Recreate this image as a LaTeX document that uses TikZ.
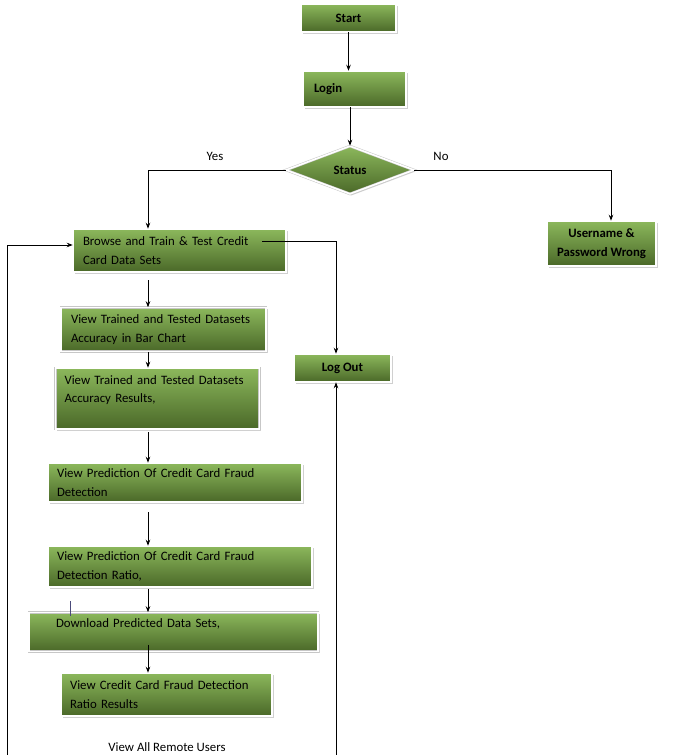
\documentclass[tikz,border=0pt]{standalone}
\usepackage{fontspec}
\setmainfont{Carlito}
\usetikzlibrary{shapes.geometric,shadows,arrows.meta,calc}
\definecolor{gtop}{HTML}{8CB85C}
\definecolor{gbot}{HTML}{4A6828}
\definecolor{strayc}{HTML}{4A4A7A}
\begin{document}
\begin{tikzpicture}[x=1pt,y=-1pt,
  gbox/.style={rectangle, top color=gtop, bottom color=gbot, draw=black!22, double=white, double distance=1.6pt, line width=0.5pt,
    drop shadow={shadow xshift=1.5pt, shadow yshift=-1.5pt, opacity=0.3, fill=black!60},
    inner sep=0pt, text=black, font=\fontsize{12.8}{18.5}\selectfont},
  lbox/.style={gbox, align=left},
  bbox/.style={gbox, align=center, font=\fontsize{12.8}{18.5}\selectfont\bfseries},
  dbox/.style={diamond, top color=gtop, bottom color=gbot, draw=black!22, double=white, double distance=1.6pt, line width=0.5pt,
    drop shadow={shadow xshift=1.5pt, shadow yshift=-1.5pt, opacity=0.3, fill=black!60},
    inner sep=0pt, font=\fontsize{12.8}{14}\selectfont\bfseries},
  conn/.style={line width=0.9pt, black},
  arr/.style={conn, -{Stealth[length=6pt,width=4.5pt]}},
  lbl/.style={font=\fontsize{12.8}{14}\selectfont, inner sep=0pt}
]
\useasboundingbox[fill=white] (0,0) rectangle (685,755);

% nodes
\node[bbox, minimum width=95, minimum height=28] (start) at (348.5,18) {Start};
\node[gbox, minimum width=103, minimum height=36, text width=81, align=left, font=\fontsize{12.8}{14}\selectfont\bfseries] (login) at (354.5,89) {Login};
\node[dbox, minimum width=128, minimum height=48] (status) at (350,170) {Status};
\node[bbox, minimum width=109, minimum height=45] (wrong) at (601.5,243.5) {Username \&\\Password Wrong};
\node[lbox, minimum width=213, minimum height=43, text width=193] (browse) at (179.5,250.5) {Browse and Train \& Test Credit\\Card Data Sets};
\node[bbox, minimum width=97, minimum height=28] (logout) at (342.5,368) {Log Out};
\node[lbox, minimum width=205, minimum height=44, text width=185] (bar) at (163.5,329.5) {View Trained and Tested Datasets\\Accuracy in Bar Chart};
\node[lbox, minimum width=204, minimum height=61, text width=186] (acc) at (157.5,398.5) {View Trained and Tested Datasets\\Accuracy Results,\\\mbox{}};
\node[lbox, minimum width=254, minimum height=39, text width=236] (pred) at (175,482.5) {View Prediction Of Credit Card Fraud\\Detection};
\node[lbox, minimum width=264, minimum height=41, text width=246] (ratio) at (180,566.5) {View Prediction Of Credit Card Fraud\\Detection Ratio,};
\node[lbox, minimum width=289, minimum height=39, text width=271] (down) at (173.5,632) {\hspace*{18pt}Download Predicted Data Sets,\\\mbox{}};
\node[lbox, minimum width=211, minimum height=43, text width=193] (res) at (166.5,694.5) {View Credit Card Fraud Detection\\Ratio Results};

\node[lbl] (remote) at (167,747) {View All Remote Users};
\node[lbl] (yes) at (215,156) {Yes};
\node[lbl] (no) at (441,156) {No};

% helper coordinates
\coordinate (spine) at (148,0);
\coordinate (browseout) at (262,241);
\coordinate (logx) at (336,0);
\coordinate (nox) at (611,0);
\coordinate (leftbot) at (7,755);
\coordinate (rightbot) at (336,755);
\coordinate (strayA) at (70,601);
\coordinate (strayB) at (70,616);

% connectors
\draw[arr] (start.south) -- (start.south |- login.north);
\draw[arr] (status.north |- login.south) -- (status.north);
\draw[arr] (status.west) -| (spine |- browse.north);
\draw[arr] (status.east) -| (nox |- wrong.north);
\draw[arr] (browseout) -| (logx |- logout.north);
\draw[arr] (rightbot) -- (logx |- logout.south);
\draw[arr] (leftbot) |- ($(browse.west)+(0,-5.5)$);
\draw[arr] ($(spine |- browse.south)+(0,8)$) -- (spine |- bar.north);
\draw[arr] (spine |- bar.south) -- (spine |- acc.north);
\draw[arr] ($(spine |- acc.south)+(0,3)$) -- (spine |- pred.north);
\draw[arr] ($(spine |- pred.south)+(0,10)$) -- (spine |- ratio.north);
\draw[arr] ($(spine |- ratio.south)+(0,2)$) -- (spine |- down.north);
\draw[arr] ($(spine |- down.south)+(0,-7)$) -- (spine |- res.north);
\draw[strayc, line width=0.8pt] (strayA) -- (strayB);
\end{tikzpicture}
\end{document}
